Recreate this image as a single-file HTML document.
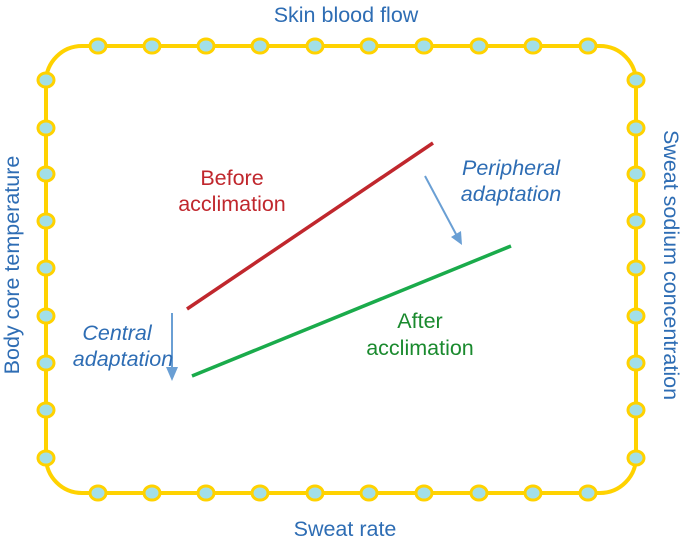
<!DOCTYPE html>
<html><head><style>
body{margin:0;background:#fff;width:685px;height:543px;overflow:hidden}
svg{display:block}
text{font-family:"Liberation Sans",sans-serif;font-size:21.5px}
</style></head><body>
<svg width="685" height="543" viewBox="0 0 685 543">
<rect x="46" y="46" width="590" height="447" rx="36" ry="36" fill="none" stroke="#ffd200" stroke-width="4"/>
<g fill="#a2dfe8" stroke="#ffd200" stroke-width="3">
<ellipse cx="98" cy="46" rx="8" ry="7"/><ellipse cx="152" cy="46" rx="8" ry="7"/><ellipse cx="206" cy="46" rx="8" ry="7"/><ellipse cx="260" cy="46" rx="8" ry="7"/><ellipse cx="315" cy="46" rx="8" ry="7"/><ellipse cx="369" cy="46" rx="8" ry="7"/><ellipse cx="424" cy="46" rx="8" ry="7"/><ellipse cx="479" cy="46" rx="8" ry="7"/><ellipse cx="533" cy="46" rx="8" ry="7"/><ellipse cx="588" cy="46" rx="8" ry="7"/>
<ellipse cx="98" cy="493" rx="8" ry="7"/><ellipse cx="152" cy="493" rx="8" ry="7"/><ellipse cx="206" cy="493" rx="8" ry="7"/><ellipse cx="260" cy="493" rx="8" ry="7"/><ellipse cx="315" cy="493" rx="8" ry="7"/><ellipse cx="369" cy="493" rx="8" ry="7"/><ellipse cx="424" cy="493" rx="8" ry="7"/><ellipse cx="479" cy="493" rx="8" ry="7"/><ellipse cx="533" cy="493" rx="8" ry="7"/><ellipse cx="588" cy="493" rx="8" ry="7"/>
<ellipse cx="46" cy="80" rx="8" ry="7"/><ellipse cx="46" cy="128" rx="8" ry="7"/><ellipse cx="46" cy="174" rx="8" ry="7"/><ellipse cx="46" cy="221" rx="8" ry="7"/><ellipse cx="46" cy="268" rx="8" ry="7"/><ellipse cx="46" cy="316" rx="8" ry="7"/><ellipse cx="46" cy="363" rx="8" ry="7"/><ellipse cx="46" cy="410" rx="8" ry="7"/><ellipse cx="46" cy="458" rx="8" ry="7"/>
<ellipse cx="636" cy="80" rx="8" ry="7"/><ellipse cx="636" cy="128" rx="8" ry="7"/><ellipse cx="636" cy="174" rx="8" ry="7"/><ellipse cx="636" cy="221" rx="8" ry="7"/><ellipse cx="636" cy="268" rx="8" ry="7"/><ellipse cx="636" cy="316" rx="8" ry="7"/><ellipse cx="636" cy="363" rx="8" ry="7"/><ellipse cx="636" cy="410" rx="8" ry="7"/><ellipse cx="636" cy="458" rx="8" ry="7"/>
</g>
<line x1="187" y1="309" x2="433" y2="143" stroke="#c0272d" stroke-width="3.5"/>
<line x1="192" y1="376" x2="511" y2="246" stroke="#1aab4b" stroke-width="3.5"/>
<g stroke="#6a9fd4" stroke-width="2" fill="#6a9fd4">
<line x1="172" y1="313" x2="172" y2="370"/><polygon points="166,367 172,381 178,367" stroke="none"/>
<line x1="425" y1="176" x2="457" y2="236"/><polygon points="451,237 462,245 461,231" stroke="none"/>
</g>
<g fill="#2e6db4">
<text x="346" y="22" text-anchor="middle">Skin blood flow</text>
<text x="345" y="536" text-anchor="middle">Sweat rate</text>
<text transform="translate(19,265) rotate(-90)" text-anchor="middle">Body core temperature</text>
<text transform="translate(664,265) rotate(90)" text-anchor="middle">Sweat sodium concentration</text>
<text x="117" y="340" text-anchor="middle" font-style="italic">Central</text>
<text x="123" y="366" text-anchor="middle" font-style="italic">adaptation</text>
<text x="511" y="175" text-anchor="middle" font-style="italic">Peripheral</text>
<text x="511" y="201" text-anchor="middle" font-style="italic">adaptation</text>
</g>
<text x="232" y="185" text-anchor="middle" fill="#c0272d">Before</text>
<text x="232" y="211" text-anchor="middle" fill="#c0272d">acclimation</text>
<text x="420" y="328" text-anchor="middle" fill="#1a8a2e">After</text>
<text x="420" y="355" text-anchor="middle" fill="#1a8a2e">acclimation</text>
</svg>
</body></html>
